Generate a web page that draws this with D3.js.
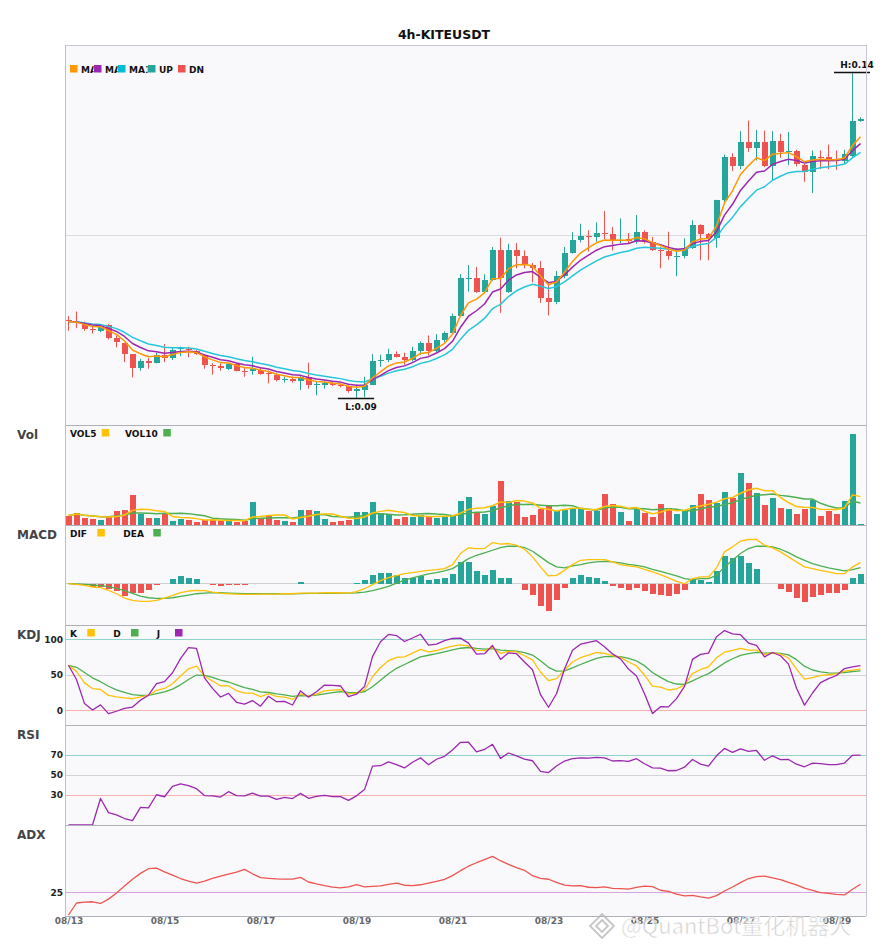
<!DOCTYPE html>
<html lang="en">
<head>
  <meta charset="UTF-8">
  <title>4h-KITEUSDT</title>
  <script src="https://d3js.org/d3.v7.min.js"></script>
  <style>
    body { margin: 0; background: #fff; }
    svg { font-family: "DejaVu Sans", sans-serif; display: block; }
  </style>
</head>
<body>
  <svg id="chart" width="885" height="950"></svg>

  <script>
    // 4h candles, KITEUSDT, starting 08/13 00:00
    const startTime = new Date(2025, 7, 13, 0, 0);
    const intervalHours = 4;

    const open = [
      0.1017, 0.1014, 0.1011, 0.1003, 0.1001, 0.1009, 0.0990, 0.0983, 0.0966, 0.0945,
      0.0955, 0.0953, 0.0965, 0.0960, 0.0974, 0.0973, 0.0971, 0.0965, 0.0949, 0.0948,
      0.0944, 0.0951, 0.0941, 0.0940, 0.0942, 0.0937, 0.0935, 0.0927, 0.0929, 0.0926,
      0.0931, 0.0919, 0.0920, 0.0923, 0.0920, 0.0918, 0.0910, 0.0912, 0.0920, 0.0955,
      0.0957, 0.0966, 0.0962, 0.0957, 0.0970, 0.0982, 0.0971, 0.0987, 0.0997, 0.1024,
      0.1079, 0.1081, 0.1060, 0.1077, 0.1122, 0.1060, 0.1123, 0.1113, 0.1100, 0.1095,
      0.1051, 0.1045, 0.1083, 0.1118, 0.1138, 0.1144, 0.1142, 0.1148, 0.1146, 0.1136,
      0.1139, 0.1136, 0.1150, 0.1135, 0.1122, 0.1121, 0.1112, 0.1114, 0.1126, 0.1160,
      0.1147, 0.1141, 0.1197, 0.1262, 0.1248, 0.1285, 0.1276, 0.1285, 0.1248, 0.1286,
      0.1270, 0.1271, 0.1250, 0.1240, 0.1262, 0.1262, 0.1259, 0.1256, 0.1264, 0.1317
    ];
    const high = [
      0.1023, 0.1030, 0.1015, 0.1008, 0.1010, 0.1011, 0.0994, 0.0983, 0.0966, 0.0959,
      0.0960, 0.0968, 0.0981, 0.0975, 0.0977, 0.0977, 0.0972, 0.0966, 0.0952, 0.0952,
      0.0952, 0.0952, 0.0945, 0.0962, 0.0945, 0.0941, 0.0937, 0.0932, 0.0932, 0.0935,
      0.0953, 0.0925, 0.0925, 0.0925, 0.0922, 0.0919, 0.0920, 0.0932, 0.0966, 0.0965,
      0.0974, 0.0970, 0.0968, 0.0977, 0.0985, 0.0994, 0.0996, 0.1000, 0.1027, 0.1086,
      0.1100, 0.1097, 0.1086, 0.1127, 0.1141, 0.1132, 0.1133, 0.1122, 0.1103, 0.1106,
      0.1072, 0.1091, 0.1127, 0.1149, 0.1162, 0.1152, 0.1164, 0.1181, 0.1157, 0.1170,
      0.1148, 0.1175, 0.1152, 0.1142, 0.1127, 0.1150, 0.1125, 0.1140, 0.1167, 0.1161,
      0.1148, 0.1198, 0.1266, 0.1268, 0.1301, 0.1317, 0.1303, 0.1302, 0.1301, 0.1297,
      0.1300, 0.1273, 0.1252, 0.1272, 0.1272, 0.1281, 0.1272, 0.1273, 0.1390, 0.1322
    ];
    const low = [
      0.1001, 0.1005, 0.1001, 0.0997, 0.0999, 0.0988, 0.0976, 0.0954, 0.0931, 0.0941,
      0.0944, 0.0952, 0.0954, 0.0957, 0.0963, 0.0961, 0.0965, 0.0944, 0.0935, 0.0941,
      0.0942, 0.0940, 0.0932, 0.0935, 0.0935, 0.0922, 0.0925, 0.0923, 0.0923, 0.0912,
      0.0914, 0.0904, 0.0914, 0.0918, 0.0916, 0.0908, 0.0900, 0.0901, 0.0920, 0.0947,
      0.0954, 0.0961, 0.0950, 0.0955, 0.0965, 0.0964, 0.0969, 0.0984, 0.0996, 0.1022,
      0.1060, 0.1058, 0.1058, 0.1076, 0.1028, 0.1058, 0.1095, 0.1095, 0.1074, 0.1043,
      0.1024, 0.1041, 0.1080, 0.1117, 0.1134, 0.1120, 0.1135, 0.1139, 0.1122, 0.1133,
      0.1132, 0.1132, 0.1132, 0.1121, 0.1095, 0.1108, 0.1083, 0.1110, 0.1124, 0.1107,
      0.1107, 0.1126, 0.1192, 0.1241, 0.1244, 0.1270, 0.1257, 0.1247, 0.1227, 0.1261,
      0.1250, 0.1248, 0.1225, 0.1208, 0.1244, 0.1244, 0.1243, 0.1252, 0.1261, 0.1315
    ];
    const close = [
      0.1015, 0.1012, 0.1003, 0.1002, 0.1006, 0.0990, 0.0984, 0.0966, 0.0945, 0.0955,
      0.0953, 0.0965, 0.0960, 0.0972, 0.0975, 0.0972, 0.0966, 0.0949, 0.0948, 0.0945,
      0.0951, 0.0941, 0.0940, 0.0943, 0.0936, 0.0936, 0.0927, 0.0929, 0.0926, 0.0931,
      0.0919, 0.0921, 0.0922, 0.0919, 0.0919, 0.0910, 0.0914, 0.0920, 0.0956, 0.0957,
      0.0966, 0.0962, 0.0957, 0.0970, 0.0982, 0.0971, 0.0987, 0.0997, 0.1024, 0.1080,
      0.1081, 0.1060, 0.1077, 0.1122, 0.1080, 0.1123, 0.1113, 0.1101, 0.1095, 0.1051,
      0.1045, 0.1083, 0.1118, 0.1138, 0.1143, 0.1142, 0.1148, 0.1146, 0.1136, 0.1138,
      0.1136, 0.1150, 0.1135, 0.1122, 0.1121, 0.1113, 0.1114, 0.1126, 0.1160, 0.1147,
      0.1141, 0.1197, 0.1262, 0.1248, 0.1285, 0.1276, 0.1285, 0.1248, 0.1286, 0.1270,
      0.1271, 0.1251, 0.1240, 0.1263, 0.1261, 0.1257, 0.1258, 0.1266, 0.1317, 0.1319
    ];
    // volume in millions
    const volume = [
      2.8, 3.7, 2.2, 1.9, 1.6, 2.5, 4.3, 4.6, 8.8, 3.3,
      2.2, 2.2, 3.7, 1.3, 1.9, 1.6, 1.0, 1.6, 1.6, 1.3,
      1.3, 1.0, 1.3, 7.0, 2.2, 2.8, 1.6, 1.3, 1.0, 4.6,
      4.6, 4.3, 1.9, 1.0, 1.3, 1.6, 4.0, 4.0, 7.0, 3.7,
      3.4, 1.9, 2.5, 2.5, 3.1, 2.5, 2.2, 2.8, 2.8, 7.3,
      8.2, 4.0, 3.4, 5.8, 13.0, 7.3, 7.0, 2.5, 3.1, 4.9,
      6.1, 4.3, 4.6, 4.9, 4.9, 4.3, 4.3, 9.1, 6.4, 4.0,
      1.3, 5.2, 3.7, 2.5, 6.4, 5.2, 3.4, 4.6, 6.1, 9.1,
      7.6, 6.7, 9.7, 7.9, 15.4, 12.4, 9.4, 6.1, 7.9, 5.2,
      4.9, 3.4, 4.9, 7.6, 2.8, 4.3, 3.4, 7.3, 27.1, 0.2
    ];

    // MACD values, in units of 1e-5 USDT
    const dif = [
      0, -0.7, -1.7, -3.3, -4, -6.7, -10, -14.3, -16.7, -17.7,
      -17.7, -16.7, -14.3, -11.7, -9, -7.3, -6.7, -7, -8.3, -9.3,
      -10, -10.3, -10.7, -10.7, -10.3, -10.3, -10.3, -10, -10, -9.3,
      -9.3, -9.3, -9, -9, -9, -9.3, -8, -5, -1, 3,
      6, 8, 10, 11, 12.3, 13.3, 14, 15, 19, 30,
      35.7, 35, 35, 41, 39.3, 40, 38.3, 34.3, 26.7, 16.7,
      7.7, 8.3, 13.3, 19, 23.3, 24, 24, 24, 21.7, 19,
      17.7, 16.7, 14.3, 11.7, 9, 5.7, 2.3, 0, 5, 6.7,
      6.7, 15.7, 31.7, 36.7, 42.3, 44, 44, 38.3, 35.7, 31.7,
      26.7, 21.7, 16.7, 15, 13.3, 11.7, 10, 10, 16.7, 21
    ];
    const dea = [
      0, -0.3, -0.7, -1.3, -2, -3, -4.7, -7, -9.7, -12.3,
      -14, -14.7, -14.5, -14, -12.7, -11.3, -10, -9.3, -9, -9,
      -9.3, -9.7, -10, -10, -10, -10, -10, -10, -10, -9.8,
      -9.7, -9.7, -9.6, -9.5, -9.4, -9.3, -9.1, -8.3, -6.8, -4.8,
      -2.6, 0.5, 3.5, 5.7, 7.8, 9.8, 11, 12.7, 15, 20,
      25, 28.3, 30.7, 33.3, 36, 37.3, 37.3, 36, 32.3, 26.7,
      21, 16.7, 15.7, 17.7, 19, 20.7, 21.7, 22.3, 21.7, 20.7,
      19.3, 18.3, 16.7, 14.3, 12.3, 10, 7.7, 5, 4, 5,
      5, 8.3, 16.7, 23.3, 30, 35, 37.3, 37.3, 36.7, 34.3,
      31, 26.7, 23.3, 20, 17.7, 15.7, 14.3, 12.7, 14, 16
    ];
    const macd = [
      0, -1.7, -1.7, -3.7, -3.3, -5, -7.3, -12.7, -9.3, -9.3,
      -6.7, -1.3, 0, 5, 7.3, 6, 4.3, 0, -1.3, -2.7,
      -1, -1, -1.3, 0, 0, 0, -0.7, -0.7, -0.7, 1.7,
      -0.3, -0.3, 0, 0, 0, -0.3, 0.3, 4, 8.7, 10.7,
      10.7, 9, 6, 5.7, 7.7, 3.3, 4.3, 5.3, 10, 21.7,
      21.3, 12.3, 8.3, 13.3, 5.3, 5.3, 0, -6.7, -11.7, -22.7,
      -26.7, -16.7, -4.7, 5.3, 8.3, 6.3, 5.3, 2.3, -2.3, -4.7,
      -6.7, -4.7, -7.3, -10.7, -11, -12.7, -10.7, -6.7, 4.3, 3.3,
      1.3, 12.3, 27.3, 25.3, 27.3, 20.3, 14.3, -0.7, -0.7, -5.3,
      -8.3, -14.7, -18.7, -13.3, -11.7, -9.7, -9.7, -6.7, 5.3, 9.3
    ];

    const maPeriods = [5, 8, 13];
    const kdjLevels = [0, 50, 100];
    const rsiLevels = [30, 50, 70];
    const adxLevels = [25];

    const UP = "#26a69a", DN = "#ef5350";
    const n = close.length;
    const times = d3.range(n).map(i => d3.timeHour.offset(startTime, i * intervalHours));

    // ---- indicators ----
    function ma(arr, p) {
      return arr.map((_, i) => d3.mean(arr.slice(Math.max(0, i - p + 1), i + 1)));
    }
    function ema(arr, p) {
      const a = 2 / (p + 1), out = [];
      arr.forEach((v, i) => out.push(i === 0 ? v : a * v + (1 - a) * out[i - 1]));
      return out;
    }

    const [maFast, maMid, maSlow] = maPeriods.map(p => ema(close, p));
    const vol5 = ma(volume, 5), vol10 = ma(volume, 10);

    const K = [], D = [], J = [];
    for (let i = 0; i < n; i++) {
      const hh = d3.max(high.slice(Math.max(0, i - 8), i + 1));
      const ll = d3.min(low.slice(Math.max(0, i - 8), i + 1));
      const rsv = hh === ll ? 50 : (close[i] - ll) / (hh - ll) * 100;
      const k = i === 0 ? rsv : (2 * K[i - 1] + rsv) / 3;
      const d = i === 0 ? rsv : (2 * D[i - 1] + k) / 3;
      K.push(k); D.push(d); J.push(3 * k - 2 * d);
    }

    const rsi = [0];
    let ag = 0, al = 0;
    for (let i = 1; i < n; i++) {
      const diff = close[i] - close[i - 1];
      ag = (Math.max(diff, 0) + 13 * ag) / 14;
      al = (Math.max(-diff, 0) + 13 * al) / 14;
      rsi.push(ag + al === 0 ? 0 : 100 * ag / (ag + al));
    }

    const tr = [], pdm = [], mdm = [];
    for (let i = 0; i < n; i++) {
      if (i === 0) { tr.push(high[0] - low[0]); pdm.push(0); mdm.push(0); continue; }
      const up = high[i] - high[i - 1], dn = low[i - 1] - low[i];
      tr.push(Math.max(high[i] - low[i], Math.abs(high[i] - close[i - 1]), Math.abs(low[i] - close[i - 1])));
      pdm.push(up > dn && up > 0 ? up : 0);
      mdm.push(dn > up && dn > 0 ? dn : 0);
    }
    const trS = ema(tr, 14), pdmS = ema(pdm, 14), mdmS = ema(mdm, 14);
    const dx = trS.map((t, i) => {
      const p = 100 * pdmS[i] / t, m = 100 * mdmS[i] / t;
      return p + m === 0 ? 0 : 100 * Math.abs(p - m) / (p + m);
    });
    const adx = ema(dx, 14);

    // ---- layout ----
    const svg = d3.select("#chart");
    const L = 65, R = 866;
    const panels = {
      main: { top: 45, bottom: 425 },
      vol: { top: 425, bottom: 525 },
      macd: { top: 525, bottom: 625 },
      kdj: { top: 625, bottom: 725 },
      rsi: { top: 725, bottom: 825 },
      adx: { top: 825, bottom: 916 }
    };

    const x = d3.scaleBand().domain(d3.range(n)).range([64, 864]);
    const xc = i => x(i) + x.bandwidth() / 2;
    const bw = 6;

    const yMain = d3.scaleLinear().domain([d3.min(low), d3.max(high)]).range([425 - 27, 45 + 27]);
    const yVol = d3.scaleLinear().domain([0, d3.max(volume) * 1.1]).range([525, 425]);
    const yMacd = d3.scaleLinear().domain(d3.extent(dif.concat(dea, macd))).range([625 - 14.5, 525 + 14.5]);
    const yKdj = d3.scaleLinear().domain([-20, 120]).range([725, 625]);
    const yRsi = d3.scaleLinear().domain([0, 100]).range([825, 725]);
    const yAdx = d3.scaleLinear().domain([0, 100]).range([915, 825]);

    svg.append("rect").attr("x", L).attr("y", 45).attr("width", R - L).attr("height", 916 - 45)
      .attr("fill", "#f9f9fc");

    const defs = svg.append("defs");
    Object.entries(panels).forEach(([k, p]) => {
      defs.append("clipPath").attr("id", "clip-" + k)
        .append("rect").attr("x", L).attr("y", p.top).attr("width", R - L).attr("height", p.bottom - p.top);
    });

    // horizontal level lines
    function hline(g, y, color) {
      g.append("line").attr("x1", L).attr("x2", R).attr("y1", y).attr("y2", y)
        .attr("stroke", color).attr("stroke-width", 1);
    }
    const levels = svg.append("g").attr("shape-rendering", "crispEdges");
    hline(levels, (panels.main.top + panels.main.bottom) / 2, "#dcdce0");
    hline(levels, yMacd(0), "#cfcfd4");
    hline(levels, yKdj(100), "#8fd3cb");
    hline(levels, yKdj(50), "#d4d4d8");
    hline(levels, yKdj(0), "#f6b1b0");
    hline(levels, yRsi(70), "#8fd3cb");
    hline(levels, yRsi(50), "#d4d4d8");
    hline(levels, yRsi(30), "#f6b1b0");
    hline(levels, yAdx(25), "#d7a6e0");

    // ---- candles ----
    const gMain = svg.append("g").attr("clip-path", "url(#clip-main)");
    const candle = gMain.selectAll("g.c").data(d3.range(n)).join("g")
      .attr("fill", i => close[i] >= open[i] ? UP : DN)
      .attr("stroke", i => close[i] >= open[i] ? UP : DN);
    candle.append("line")
      .attr("x1", i => xc(i) + 0.5).attr("x2", i => xc(i) + 0.5)
      .attr("y1", i => yMain(high[i])).attr("y2", i => yMain(low[i]))
      .attr("stroke-width", 1);
    candle.append("rect")
      .attr("stroke", "none").attr("shape-rendering", "crispEdges")
      .attr("x", i => xc(i) - bw / 2 + 0.5).attr("width", bw)
      .attr("y", i => yMain(Math.max(open[i], close[i])))
      .attr("height", i => Math.max(1, Math.abs(yMain(open[i]) - yMain(close[i]))));

    function drawLine(g, values, y, color, w) {
      g.append("path").datum(values)
        .attr("fill", "none").attr("stroke", color).attr("stroke-width", w)
        .attr("stroke-linejoin", "round")
        .attr("d", d3.line().x((d, i) => xc(i) + 0.5).y(d => y(d)));
    }
    drawLine(gMain, maSlow, yMain, "#26c6da", 1.5);
    drawLine(gMain, maMid, yMain, "#9c27b0", 1.5);
    drawLine(gMain, maFast, yMain, "#ff9800", 1.5);

    // high / low marks
    const iHi = d3.maxIndex(high), iLo = d3.minIndex(low);
    const marks = svg.append("g").attr("font-size", 9).attr("font-weight", "bold").attr("fill", "#111");
    [[iHi, high[iHi], "H:", -4.5], [iLo, low[iLo], "L:", 11]].forEach(([i, v, lab, dy]) => {
      const yy = Math.round(yMain(v)) + 0.5;
      marks.append("line").attr("x1", xc(i) - 18).attr("x2", xc(i) + 18).attr("y1", yy).attr("y2", yy)
        .attr("stroke", "#111").attr("stroke-width", 1.3);
      marks.append("text").attr("x", xc(i) + 5).attr("y", yy + dy).attr("text-anchor", "middle")
        .text(lab + v.toFixed(2));
    });

    // ---- volume ----
    const gVol = svg.append("g").attr("clip-path", "url(#clip-vol)");
    gVol.selectAll("rect").data(d3.range(n)).join("rect")
      .attr("shape-rendering", "crispEdges")
      .attr("x", i => xc(i) - bw / 2 + 0.5).attr("width", bw)
      .attr("y", i => yVol(volume[i])).attr("height", i => yVol(0) - yVol(volume[i]))
      .attr("fill", i => close[i] >= open[i] ? UP : DN);
    drawLine(gVol, vol10, yVol, "#4caf50", 1.5);
    drawLine(gVol, vol5, yVol, "#ffc107", 1.5);

    // ---- MACD ----
    const gMacd = svg.append("g").attr("clip-path", "url(#clip-macd)");
    gMacd.selectAll("rect").data(d3.range(n)).join("rect")
      .attr("shape-rendering", "crispEdges")
      .attr("x", i => xc(i) - bw / 2 + 0.5).attr("width", bw)
      .attr("y", i => Math.min(yMacd(0), yMacd(macd[i])))
      .attr("height", i => Math.abs(yMacd(macd[i]) - yMacd(0)))
      .attr("fill", i => macd[i] >= 0 ? UP : DN);
    drawLine(gMacd, dea, yMacd, "#4caf50", 1.3);
    drawLine(gMacd, dif, yMacd, "#ffc107", 1.3);

    // ---- KDJ ----
    const gKdj = svg.append("g").attr("clip-path", "url(#clip-kdj)");
    drawLine(gKdj, D, yKdj, "#4caf50", 1.3);
    drawLine(gKdj, K, yKdj, "#ffc107", 1.3);
    drawLine(gKdj, J, yKdj, "#9c27b0", 1.3);

    // ---- RSI ----
    const gRsi = svg.append("g").attr("clip-path", "url(#clip-rsi)");
    drawLine(gRsi, rsi, yRsi, "#9c27b0", 1.3);

    // ---- ADX ----
    const gAdx = svg.append("g").attr("clip-path", "url(#clip-adx)");
    drawLine(gAdx, adx, yAdx, "#ef5350", 1.3);

    // ---- frames ----
    const frame = svg.append("g").attr("shape-rendering", "crispEdges").attr("fill", "none");
    frame.append("line").attr("x1", L).attr("x2", R).attr("y1", 45).attr("y2", 45).attr("stroke", "#c8c8d2");
    [425, 525, 625, 725, 825, 916].forEach(y => {
      frame.append("line").attr("x1", L).attr("x2", R).attr("y1", y).attr("y2", y).attr("stroke", "#b0b0b8");
    });
    frame.append("line").attr("x1", L).attr("x2", L).attr("y1", 45).attr("y2", 916).attr("stroke", "#c0c0c8");
    frame.append("line").attr("x1", R).attr("x2", R).attr("y1", 45).attr("y2", 916).attr("stroke", "#c8c8d2");

    // ---- axes ----
    const tickIdx = d3.range(n).filter(i =>
      times[i].getHours() === 0 && d3.timeDay.count(startTime, times[i]) % 2 === 0);
    const fmt = d3.timeFormat("%m/%d");
    const xAxis = svg.append("g").attr("transform", "translate(1,916)")
      .call(d3.axisBottom(x).tickValues(tickIdx).tickFormat(i => fmt(times[i])).tickSize(0).tickPadding(1.6));
    xAxis.select(".domain").remove();
    xAxis.selectAll("text").attr("font-family", "DejaVu Sans").attr("font-size", 9)
      .attr("font-weight", "bold").attr("fill", "#666");

    function yTicks(scale, values) {
      const g = svg.append("g").attr("transform", `translate(${L - 2},0)`)
        .call(d3.axisLeft(scale).tickValues(values).tickSize(0).tickPadding(0));
      g.select(".domain").remove();
      g.selectAll("text").attr("font-family", "DejaVu Sans").attr("font-size", 9)
        .attr("font-weight", "bold").attr("fill", "#222");
    }
    yTicks(yKdj, kdjLevels);
    yTicks(yRsi, rsiLevels);
    yTicks(yAdx, adxLevels);

    // ---- titles and labels ----
    svg.append("text").attr("x", 444).attr("y", 38.5).attr("text-anchor", "middle")
      .attr("font-size", 12.5).attr("font-weight", "bold").attr("fill", "#111").text("4h-KITEUSDT");

    const panelLabels = [["Vol", 438.5], ["MACD", 538.5], ["KDJ", 638.5], ["RSI", 739], ["ADX", 839]];
    svg.append("g").selectAll("text").data(panelLabels).join("text")
      .attr("x", 17).attr("y", d => d[1]).attr("font-size", 12).attr("font-weight", "bold")
      .attr("fill", "#444").text(d => d[0]);

    // main legend: square then label; each label is cut where the next square starts
    const mainLegend = [
      { label: "MA" + maPeriods[0], color: "#ff9800", x: 70 },
      { label: "MA" + maPeriods[1], color: "#9c27b0", x: 94 },
      { label: "MA" + maPeriods[2], color: "#00bcd4", x: 118 },
      { label: "UP", color: UP, x: 148 },
      { label: "DN", color: DN, x: 178 }
    ];
    const gl = svg.append("g").attr("font-size", 9).attr("font-weight", "bold").attr("fill", "#111");
    mainLegend.forEach((d, k) => {
      const next = mainLegend[k + 1];
      const t = gl.append("text").attr("x", d.x + 11).attr("y", 72.5).text(d.label);
      if (next) {
        defs.append("clipPath").attr("id", "lg-" + k).append("rect")
          .attr("x", d.x + 10).attr("y", 55).attr("width", next.x - d.x - 10.5).attr("height", 25);
        t.attr("clip-path", `url(#lg-${k})`);
      }
      gl.append("rect").attr("x", d.x).attr("y", 65).attr("width", 7.5).attr("height", 7.5).attr("fill", d.color);
    });

    // panel legends: label then square
    const subLegends = [
      { y: 436.7, items: [["VOL5", "#ffc107", 70, 101.7], ["VOL10", "#4caf50", 125, 163.3]] },
      { y: 536.7, items: [["DIF", "#ffc107", 70, 97.3], ["DEA", "#4caf50", 123.3, 153.3]] },
      { y: 636.7, items: [["K", "#ffc107", 70, 87.3], ["D", "#4caf50", 113.3, 131], ["J", "#9c27b0", 156.7, 175]] }
    ];
    subLegends.forEach(l => {
      const g = svg.append("g").attr("font-size", 9).attr("font-weight", "bold").attr("fill", "#111");
      l.items.forEach(([lab, color, tx, sx]) => {
        g.append("text").attr("x", tx).attr("y", l.y).text(lab);
        g.append("rect").attr("x", sx).attr("y", l.y - 7.7).attr("width", 7.5).attr("height", 7.5).attr("fill", color);
      });
    });

    // watermark
    const wm = svg.append("g").attr("opacity", 0.8);
    const lg = wm.append("g").attr("transform", "translate(602,926)").attr("fill", "none")
      .attr("stroke", "#b8b8b8").attr("stroke-width", 1.8);
    lg.append("path").attr("d", "M0,-12 L12,0 L0,12 L-12,0 Z");
    lg.append("path").attr("d", "M0,-6 L6,0 L0,6 L-6,0 Z");
    wm.append("text").attr("x", 621).attr("y", 934)
      .attr("font-family", "'Noto Sans CJK SC', 'Noto Sans', sans-serif").attr("font-size", 22)
      .attr("fill", "#c6c6c6").attr("stroke", "#fff").attr("stroke-width", 0.6)
      .text("@QuantBot量化机器人");
  </script>
</body>
</html>
